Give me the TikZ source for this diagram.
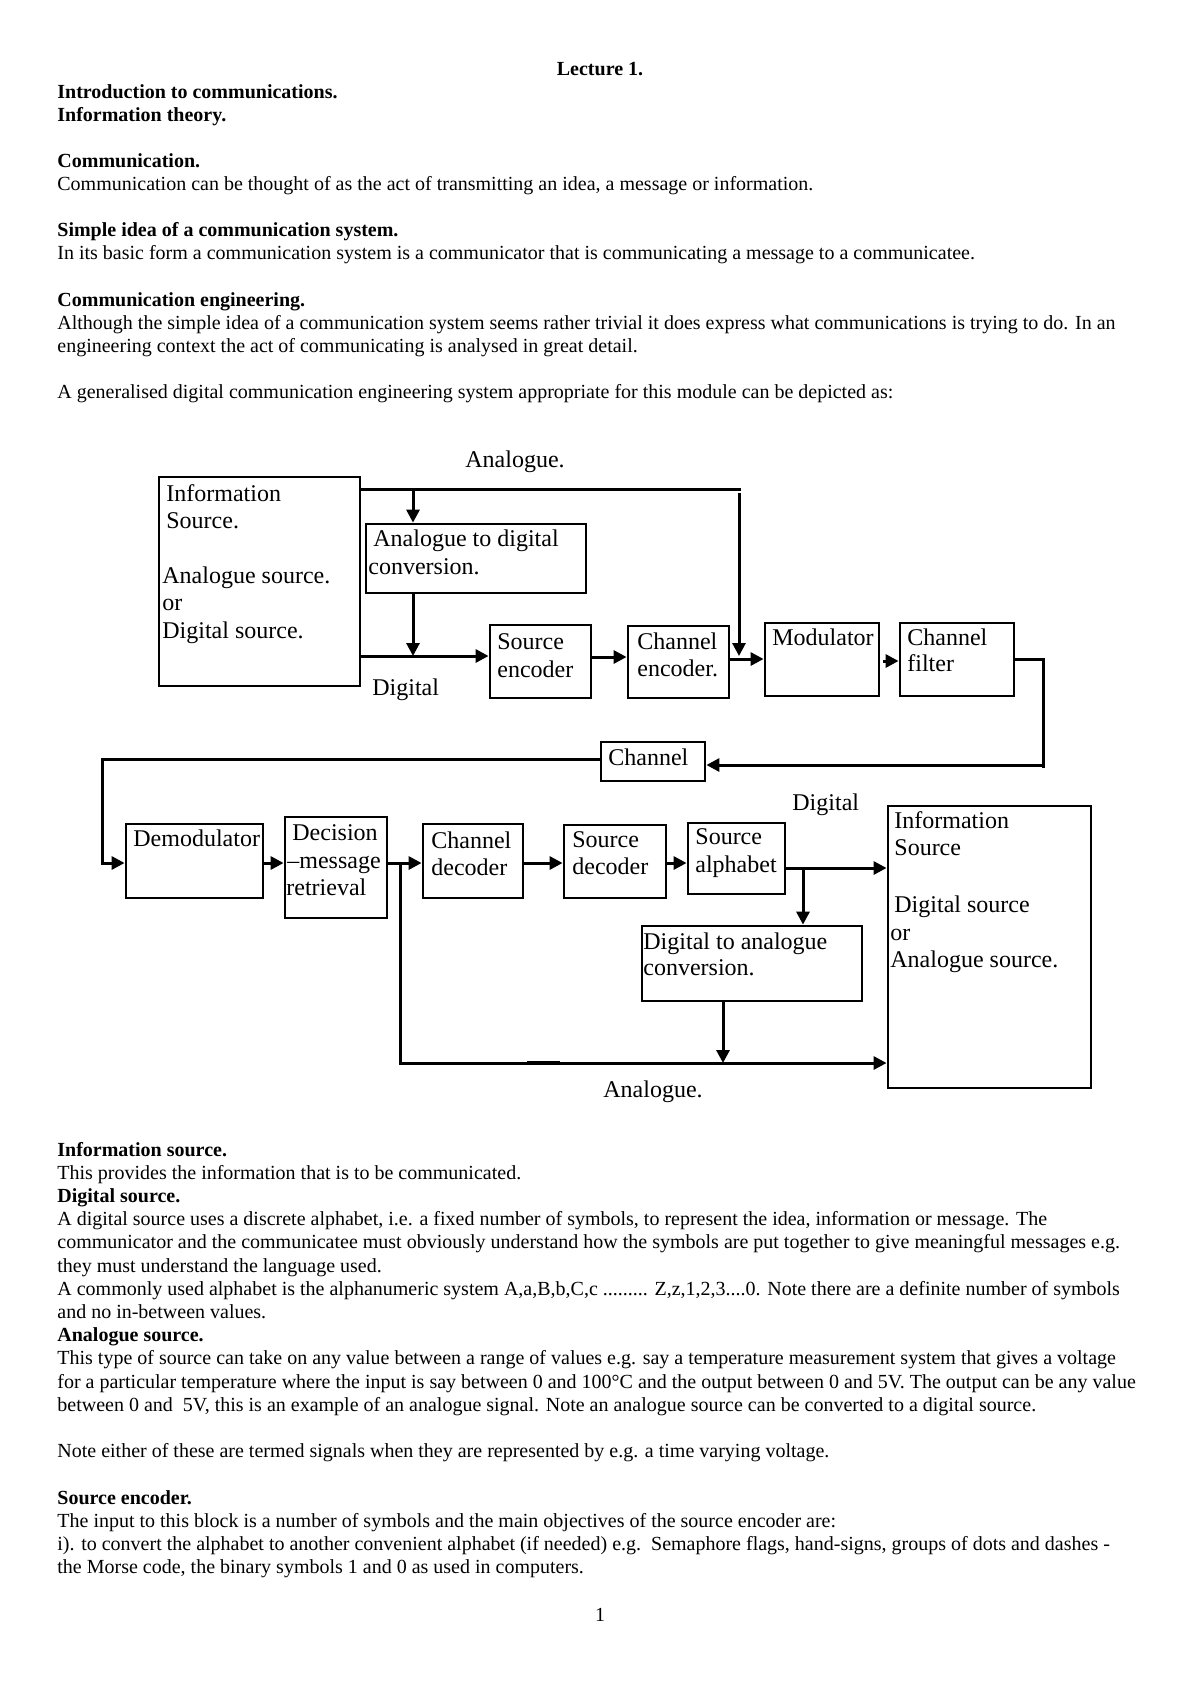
\documentclass[tikz,border=0pt]{standalone}
\usepackage{fontspec}
\setmainfont{Liberation Serif}
\usetikzlibrary{arrows.meta,fit}
\newcommand\mytl[3]{\node[btext] (#1) at (57,{75+23.1*#2}) {#3};}
\newcommand\myth[3]{\node[bhead] (#1) at (57,{75+23.1*#2}) {#3};}
\newcommand\mybl[3]{\node[btext] (#1) at (57,{1156+23.2*#2}) {#3};}
\newcommand\mybh[3]{\node[bhead] (#1) at (57,{1156+23.2*#2}) {#3};}
\begin{document}
\begin{tikzpicture}[x=0.5pt,y=-0.5pt,
  blk/.style={draw, line width=1.4pt, inner sep=0pt, rectangle},
  dtext/.style={anchor=base west, inner sep=0pt, font=\fontsize{12}{13.7}\selectfont},
  btext/.style={anchor=base west, inner sep=0pt, font=\fontsize{10}{12}\selectfont},
  bhead/.style={btext, font=\fontsize{10}{12}\selectfont\bfseries},
  conn/.style={line width=1.5pt},
  arr/.style={conn, -{Triangle[length=6.5pt,width=6.5pt]}}]
\useasboundingbox (0,0) rectangle (1200,1698);

% ---------- top text ----------
\node[bhead, anchor=base] (t0) at (600,75) {Lecture 1.};
\myth{t1}{1}{Introduction to communications.}
\myth{t2}{2}{Information theory.}
\myth{t4}{4}{Communication.}
\mytl{t5}{5}{Communication can be thought of as the act of transmitting an idea, a message or information.}
\myth{t7}{7}{Simple idea of a communication system.}
\mytl{t8}{8}{In its basic form a communication system is a communicator that is communicating a message to a communicatee.}
\myth{t10}{10}{Communication engineering.}
\mytl{t11}{11}{Although the simple idea of a communication system seems rather trivial it does express what communications is trying to do. In an}
\mytl{t12}{12}{engineering context the act of communicating is analysed in great detail.}
\mytl{t14}{14}{A generalised digital communication engineering system appropriate for this module can be depicted as:}

% ---------- boxes ----------
\node[blk, fit={(159,477) (360,686)}] (infoL) {};
\node[blk, fit={(366,524) (586,593)}] (adc) {};
\node[blk, fit={(490,625) (591,698)}] (senc) {};
\node[blk, fit={(628,626) (729,698)}] (cenc) {};
\node[blk, fit={(765,623) (879,696)}] (mod) {};
\node[blk, fit={(900,623) (1014,696)}] (filt) {};
\node[blk, fit={(601,742) (705,781)}] (chan) {};
\node[blk, fit={(126,824) (263,898)}] (demod) {};
\node[blk, fit={(285,817) (387,918)}] (dec) {};
\node[blk, fit={(423,824) (523,898)}] (cdec) {};
\node[blk, fit={(564,825) (666,898)}] (sdec) {};
\node[blk, fit={(688,823) (785,894)}] (alph) {};
\node[blk, fit={(642,926) (862,1001)}] (dac) {};
\node[blk, fit={(888,806) (1091,1088)}] (infoR) {};

% ---------- box texts ----------
\node[dtext] (iL1) at (166,501) {Information};
\node[dtext] (iL2) at (166,528) {Source.};
\node[dtext] (iL3) at (162,583) {Analogue source.};
\node[dtext] (iL4) at (162,610) {or};
\node[dtext] (iL5) at (162,638) {Digital source.};
\node[dtext] (ad1) at (373,546) {Analogue to digital};
\node[dtext] (ad2) at (368,574) {conversion.};
\node[dtext] (se1) at (497,649) {Source};
\node[dtext] (se2) at (497,677) {encoder};
\node[dtext] (ce1) at (637,649) {Channel};
\node[dtext] (ce2) at (637,676) {encoder.};
\node[dtext] (mo1) at (772,645) {Modulator};
\node[dtext] (cf1) at (907,645) {Channel};
\node[dtext] (cf2) at (907,671) {filter};
\node[dtext] (ch1) at (608,765) {Channel};
\node[dtext] (dm1) at (133,846) {Demodulator};
\node[dtext] (dc1) at (292,840) {Decision};
\node[dtext] (dc2) at (287,868) {--message};
\node[dtext] (dc3) at (286,895) {retrieval};
\node[dtext] (cd1) at (431,848) {Channel};
\node[dtext] (cd2) at (431,875) {decoder};
\node[dtext] (sd1) at (572,847) {Source};
\node[dtext] (sd2) at (572,874) {decoder};
\node[dtext] (sa1) at (695,844) {Source};
\node[dtext] (sa2) at (695,872) {alphabet};
\node[dtext] (da1) at (643,949) {Digital to analogue};
\node[dtext] (da2) at (643,975) {conversion.};
\node[dtext] (iR1) at (894,828) {Information};
\node[dtext] (iR2) at (894,855) {Source};
\node[dtext] (iR3) at (894,912) {Digital source};
\node[dtext] (iR4) at (890,940) {or};
\node[dtext] (iR5) at (890,967) {Analogue source.};

% ---------- labels ----------
\node[dtext] (lA1) at (465,467) {Analogue.};
\node[dtext] (lD1) at (372,695) {Digital};
\node[dtext] (lD2) at (792,810) {Digital};
\node[dtext] (lA2) at (603,1097) {Analogue.};

% ---------- connectors ----------
\coordinate (topR) at (741,489);
\coordinate (vtop) at (739,493);
\coordinate (vbot) at (739,656);
\coordinate (ad) at (413,489);
\coordinate (dline) at (413,656);
\coordinate (y657) at (0,657);
\coordinate (y659) at (0,659);
\coordinate (m2) at (883,661);
\coordinate (rc) at (1043,659);
\coordinate (rb) at (1043,768);
\coordinate (rj) at (1043,765);
\coordinate (lc) at (102,759);
\coordinate (ld) at (102,863);
\coordinate (bj) at (400,863);
\coordinate (bb) at (400,1063);
\coordinate (aj) at (803,868);
\coordinate (dj) at (723,1063);
\coordinate (s1) at (527,1062.2);
\coordinate (s2) at (560,1062.2);

\draw[conn] (infoL.east |- topR) -- (topR);
\draw[arr] (vtop) -- (vbot);
\draw[arr] (ad) -- (ad |- adc.north);
\draw[arr] (ad |- adc.south) -- (dline);
\draw[arr] (infoL.east |- dline) -- (senc.west |- dline);
\draw[arr] (senc.east |- y657) -- (cenc.west |- y657);
\draw[arr] (cenc.east |- y659) -- (mod.west |- y659);
\draw[arr] (m2) -- (filt.west |- m2);
\draw[conn] (filt.east |- rc) -- (rc) -- (rb);
\draw[arr] (rj) -- (chan.east |- rj);
\draw[arr] (chan.west |- lc) -- (lc) -- (ld) -- (demod.west |- ld);
\draw[arr] (demod.east |- ld) -- (dec.west |- ld);
\draw[arr] (dec.east |- ld) -- (cdec.west |- ld);
\draw[arr] (bj) -- (bb) -- (infoR.west |- bb);
\draw[arr] (cdec.east |- ld) -- (sdec.west |- ld);
\draw[arr] (sdec.east |- ld) -- (alph.west |- ld);
\draw[arr] (alph.east |- aj) -- (infoR.west |- aj);
\draw[arr] (aj) -- (aj |- dac.north);
\draw[arr] (dj |- dac.south) -- (dj);
\draw[conn] (s1) -- (s2);

% ---------- bottom text ----------
\mybh{b0}{0}{Information source.}
\mybl{b1}{1}{This provides the information that is to be communicated.}
\mybh{b2}{2}{Digital source.}
\mybl{b3}{3}{A digital source uses a discrete alphabet, i.e. a fixed number of symbols, to represent the idea, information or message. The}
\mybl{b4}{4}{communicator and the communicatee must obviously understand how the symbols are put together to give meaningful messages e.g.}
\mybl{b5}{5}{they must understand the language used.}
\mybl{b6}{6}{A commonly used alphabet is the alphanumeric system A,a,B,b,C,c ......... Z,z,1,2,3....0. Note there are a definite number of symbols}
\mybl{b7}{7}{and no in-between values.}
\mybh{b8}{8}{Analogue source.}
\mybl{b9}{9}{This type of source can take on any value between a range of values e.g. say a temperature measurement system that gives a voltage}
\mybl{b10}{10}{for a particular temperature where the input is say between 0 and 100°C and the output between 0 and 5V. The output can be any value}
\mybl{b11}{11}{between 0 and\ \ 5V, this is an example of an analogue signal. Note an analogue source can be converted to a digital source.}
\mybl{b13}{13}{Note either of these are termed signals when they are represented by e.g. a time varying voltage.}
\mybh{b15}{15}{Source encoder.}
\mybl{b16}{16}{The input to this block is a number of symbols and the main objectives of the source encoder are:}
\mybl{b17}{17}{i). to convert the alphabet to another convenient alphabet (if needed) e.g.\ \ Semaphore flags, hand-signs, groups of dots and dashes -}
\mybl{b18}{18}{the Morse code, the binary symbols 1 and 0 as used in computers.}
\node[btext, anchor=base] (pg) at (600,1621) {1};
\end{tikzpicture}
\end{document}
